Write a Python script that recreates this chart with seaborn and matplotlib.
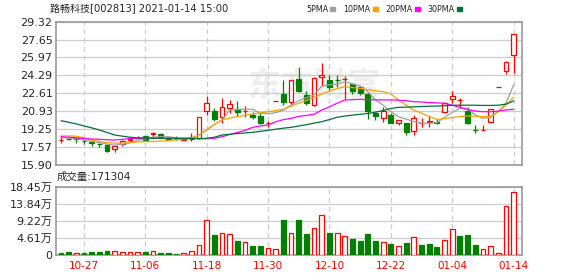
import numpy as np
import pandas as pd
import matplotlib
matplotlib.use("Agg")
import matplotlib.pyplot as plt
from matplotlib.patches import Rectangle
import seaborn as sns

sns.set_style("white")
plt.rcParams['font.family'] = ['DejaVu Sans', 'Noto Sans CJK SC']

# ---- data ----
dates = ['10-22', '10-23', '10-26', '10-27', '10-28', '10-29', '10-30', '11-02', '11-03', '11-04',
         '11-05', '11-06', '11-09', '11-10', '11-11', '11-12', '11-13', '11-16', '11-17', '11-18',
         '11-19', '11-20', '11-23', '11-24', '11-25', '11-26', '11-27', '11-30', '12-01', '12-02',
         '12-03', '12-04', '12-07', '12-08', '12-09', '12-10', '12-11', '12-14', '12-15', '12-16',
         '12-17', '12-18', '12-21', '12-22', '12-23', '12-24', '12-25', '12-28', '12-29', '12-30',
         '12-31', '01-04', '01-05', '01-06', '01-07', '01-08', '01-11', '01-12', '01-13', '01-14']
opens = [18.20, 18.33, 18.42, 18.18, 18.04, 17.88, 17.80, 17.36, 17.84, 18.28,
         18.43, 18.57, 18.77, 18.83, 18.45, 18.36, 18.26, 18.30, 18.46, 21.00,
         20.96, 20.43, 21.21, 21.12, 20.95, 20.59, 20.49, 19.80, 21.88, 22.52,
         21.83, 24.00, 22.50, 21.50, 24.11, 23.86, 23.88, 23.92, 23.46, 23.23,
         22.55, 20.80, 20.27, 20.59, 19.81, 19.81, 19.09, 19.80, 19.94, 19.96,
         20.84, 22.05, 21.97, 20.99, 19.20, 19.20, 19.96, 23.23, 24.73, 26.20]
highs = [18.50, 18.42, 18.45, 18.20, 18.12, 17.95, 17.87, 17.72, 18.22, 18.50,
         18.60, 18.62, 19.00, 18.90, 18.50, 18.60, 18.45, 18.85, 20.40, 22.38,
         21.20, 22.15, 22.00, 21.85, 21.45, 20.90, 20.80, 20.00, 21.90, 23.86,
         23.90, 25.10, 22.80, 24.10, 25.42, 24.30, 24.30, 24.20, 23.55, 23.30,
         22.60, 20.90, 21.30, 20.75, 20.15, 19.85, 20.59, 20.27, 20.50, 20.20,
         21.80, 22.80, 22.15, 21.30, 19.60, 19.66, 21.15, 23.23, 25.60, 28.20]
lows = [17.99, 18.22, 17.99, 17.90, 17.70, 17.55, 17.12, 17.08, 17.70, 18.08,
        18.30, 18.15, 18.50, 18.50, 18.20, 18.25, 18.20, 18.15, 18.30, 20.59,
        20.00, 19.81, 20.80, 20.45, 20.35, 20.20, 19.70, 19.50, 21.88, 21.52,
        21.50, 22.75, 21.50, 21.40, 23.30, 22.90, 23.20, 22.10, 22.55, 22.50,
        20.20, 20.10, 19.95, 19.80, 19.65, 18.70, 18.75, 19.50, 19.50, 19.75,
        20.75, 21.70, 21.30, 19.75, 18.90, 19.20, 19.80, 23.23, 24.40, 24.55]
closes = [18.24, 18.30, 18.36, 18.12, 17.98, 17.85, 17.24, 17.69, 18.13, 18.34,
          18.47, 18.24, 18.93, 18.52, 18.26, 18.33, 18.32, 18.36, 20.37, 21.68,
          20.18, 21.31, 21.59, 20.84, 21.00, 20.37, 19.81, 19.84, 21.90, 21.83,
          23.83, 22.83, 21.70, 24.05, 24.33, 23.23, 23.84, 23.98, 22.83, 22.61,
          20.95, 20.49, 20.96, 19.86, 20.12, 18.96, 20.27, 19.83, 19.98, 19.83,
          21.74, 22.36, 22.00, 19.81, 19.17, 19.22, 21.12, 23.23, 25.57, 28.13]
ma5 = [18.46, 18.42, 18.35, 18.25, 18.12, 17.99, 17.85, 17.77, 17.84, 18.00,
       18.22, 18.35, 18.50, 18.55, 18.55, 18.45, 18.40, 18.45, 18.71, 19.18,
       19.70, 20.12, 21.05, 21.10, 21.12, 21.12, 20.74, 20.70, 20.80, 21.05,
       21.50, 21.93, 22.20, 22.46, 23.30, 23.40, 23.46, 23.70, 23.50, 23.30,
       22.77, 21.99, 21.50, 20.89, 20.43, 20.20, 19.96, 19.81, 19.81, 19.85,
       20.37, 20.80, 21.21, 21.20, 20.59, 20.27, 20.35, 20.90, 21.68, 23.39]
ma10 = [18.62, 18.62, 18.60, 18.45, 18.24, 18.10, 17.99, 17.95, 17.93, 17.98,
        18.06, 18.08, 18.10, 18.14, 18.18, 18.25, 18.34, 18.38, 18.71, 19.20,
        19.70, 20.12, 20.30, 20.43, 20.55, 20.68, 20.78, 20.89, 21.00, 21.12,
        21.40, 21.68, 21.95, 22.24, 22.55, 22.83, 23.05, 23.23, 23.15, 23.08,
        22.95, 22.85, 22.77, 22.55, 21.99, 21.50, 21.05, 20.75, 20.43, 20.18,
        20.25, 20.35, 20.43, 20.50, 20.45, 20.43, 20.45, 20.89, 21.50, 22.24]
ma20 = [18.55, 18.50, 18.45, 18.38, 18.33, 18.31, 18.26, 18.24, 18.30, 18.38,
        18.40, 18.40, 18.40, 18.40, 18.40, 18.40, 18.40, 18.40, 18.38, 18.36,
        18.40, 18.55, 18.75, 18.95, 19.15, 19.43, 19.55, 19.65, 19.95, 20.15,
        20.27, 20.45, 20.55, 20.65, 21.05, 21.35, 21.68, 21.99, 22.02, 22.05,
        22.03, 22.00, 22.00, 21.99, 21.97, 21.92, 21.83, 21.80, 21.75, 21.72,
        21.68, 21.50, 21.30, 21.10, 20.95, 20.89, 20.89, 20.95, 21.05, 21.12]
ma30 = [20.05, 19.90, 19.75, 19.56, 19.38, 19.18, 18.95, 18.71, 18.60, 18.50,
        18.45, 18.42, 18.40, 18.40, 18.40, 18.39, 18.38, 18.38, 18.36, 18.40,
        18.50, 18.71, 18.78, 18.85, 18.90, 18.96, 19.05, 19.15, 19.25, 19.35,
        19.43, 19.55, 19.68, 19.82, 19.96, 20.15, 20.37, 20.48, 20.57, 20.65,
        20.73, 20.85, 21.00, 21.20, 21.30, 21.32, 21.35, 21.38, 21.40, 21.42,
        21.45, 21.50, 21.50, 21.50, 21.50, 21.48, 21.48, 21.50, 21.60, 21.90]
volume = [0.54, 0.81, 0.45, 0.54, 0.81, 0.81, 1.08, 0.99, 0.72, 0.72,
          0.72, 0.81, 0.99, 0.54, 0.54, 0.27, 0.45, 0.99, 2.61, 9.36,
          5.31, 5.94, 5.58, 3.78, 3.42, 2.43, 2.43, 1.80, 1.53, 9.45,
          5.85, 9.45, 5.67, 7.20, 10.71, 5.94, 5.85, 5.04, 4.32, 3.78,
          5.67, 3.78, 3.42, 2.88, 2.34, 3.24, 4.77, 2.70, 2.97, 2.16,
          4.05, 6.93, 5.13, 5.40, 2.70, 1.53, 2.43, 0.45, 13.23, 17.13]  # 万
vol_up = [0, 0, 1, 0, 0, 0, 0, 1, 1, 1, 1, 0, 1, 0, 0, 0, 1, 1, 1, 1,
          0, 1, 1, 0, 1, 0, 0, 1, 1, 0, 1, 0, 0, 1, 1, 0, 1, 1, 0, 0,
          0, 0, 1, 0, 1, 0, 1, 0, 0, 0, 1, 1, 0, 0, 0, 1, 1, 1, 1, 1]
price_ticks = [15.90, 17.57, 19.25, 20.93, 22.61, 24.29, 25.97, 27.65, 29.32]
vol_ticks = [0, 4.61, 9.22, 13.84, 18.45]
label_dates = ['10-27', '11-06', '11-18', '11-30', '12-10', '12-22', '01-04', '01-14']

RED = '#ff0000'
GREEN = '#008000'
ma_colors = {'5PMA': '#a0a0a0', '10PMA': '#f5a300', '20PMA': '#ff00ff', '30PMA': '#00703c'}

df = pd.DataFrame({'date': dates, 'open': opens, 'high': highs, 'low': lows,
                   'close': closes, 'vol': volume, 'vol_up': vol_up})
df['x'] = np.arange(len(df))
df['up'] = df['close'] >= df['open']
label_pos = [dates.index(d) for d in label_dates]

W, H = 578, 276
fig = plt.figure(figsize=(W / 100, H / 100), dpi=100)
ax = fig.add_axes([56 / W, 1 - 165 / H, (522 - 56) / W, (165 - 21.7) / H])
axv = fig.add_axes([56 / W, 1 - 255 / H, (522 - 56) / W, (255 - 186.7) / H])

# watermark
ax.text(33, 23.2, '东方财富', fontsize=24, fontweight='bold', color='#eeeeee',
        ha='center', va='center', zorder=0.5, family=['Noto Sans CJK SC'])

# candles
ax.vlines(df['x'], df['low'], df['high'], colors=np.where(df['up'], RED, GREEN),
          linewidth=0.9, zorder=3)
body_bot = np.minimum(df['open'], df['close'])
body_h = (df['close'] - df['open']).abs()
up = df['up'].values
ax.bar(df['x'][up], body_h[up], bottom=body_bot[up], width=0.62,
       facecolor='white', edgecolor=RED, linewidth=0.9, zorder=4)
ax.bar(df['x'][~up], body_h[~up], bottom=body_bot[~up], width=0.62,
       facecolor=GREEN, edgecolor=GREEN, linewidth=0.9, zorder=4)

# moving averages
for name, vals in zip(ma_colors, [ma5, ma10, ma20, ma30]):
    sns.lineplot(x=df['x'], y=vals, ax=ax, color=ma_colors[name], linewidth=0.9, zorder=5)

# volume
vu = df['vol_up'].values == 1
axv.bar(df['x'][vu], df['vol'][vu], width=0.62, facecolor='white', edgecolor=RED,
        linewidth=0.9, zorder=3)
axv.bar(df['x'][~vu], df['vol'][~vu], width=0.62, facecolor=GREEN, edgecolor=GREEN,
        linewidth=0.9, zorder=3)

for a in (ax, axv):
    a.set_xlim(-0.65, 60.1)
    a.set_xticks(label_pos)
    a.grid(axis='x', color='#cccccc', linestyle=(0, (4, 3)), linewidth=0.9)
    a.grid(axis='y', color='#cccccc', linestyle='-', linewidth=0.9)
    a.set_axisbelow(True)
    for s in a.spines.values():
        s.set_color('#999999')
        s.set_linewidth(1.2)
    a.tick_params(length=0, pad=2.5, labelsize=8)
    a.set_xlabel('')
    a.set_ylabel('')

ax.set_ylim(price_ticks[0], price_ticks[-1])
ax.set_yticks(price_ticks)
ax.set_yticklabels([f'{t:.2f}' for t in price_ticks])
ax.set_xticklabels([])

axv.set_ylim(0, vol_ticks[-1])
axv.set_yticks(vol_ticks)
axv.set_yticklabels(['0'] + [f'{t:.2f}万' for t in vol_ticks[1:]])
axv.set_xticklabels(label_dates, color=RED, fontsize=7.5)
axv.tick_params(axis='x', pad=4)

# header texts
fig.text(50 / W, 1 - 9 / H, '路畅科技[002813] 2021-01-14 15:00', fontsize=7.2,
         va='center', ha='left')
fig.text(57 / W, 1 - 177 / H, '成交量:171304', fontsize=7.5, va='center', ha='left')
leg_x = [(306, 330), (343, 373), (385, 415), (427, 457)]
for (tx, sx), (name, c) in zip(leg_x, ma_colors.items()):
    fig.text(tx / W, 1 - 9 / H, name, fontsize=5.8, va='center', ha='left')
    fig.patches.append(Rectangle((sx / W, 1 - 10.5 / H), 5 / W, 3.5 / H, color=c,
                                 transform=fig.transFigure, figure=fig))

fig.savefig('out.png', dpi=100)
